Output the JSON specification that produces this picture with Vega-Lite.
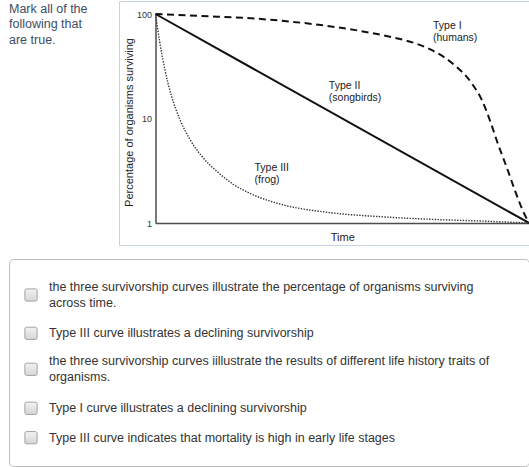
{
  "$schema": "https://vega.github.io/schema/vega-lite/v6.json",
  "background": "white",
  "padding": {"left": 8, "top": 0, "right": 0, "bottom": 0},
  "config": {
    "font": "Liberation Sans",
    "view": {"stroke": null},
    "axis": {"grid": false}
  },
  "spacing": 12,
  "vconcat": [
    {
      "spacing": 0,
      "bounds": "flush",
      "hconcat": [
        {
          "width": 109.5,
          "height": 244,
          "data": {"values": [{"prompt": "Mark all of the\nfollowing that\nare true."}]},
          "mark": {"type": "text", "align": "left", "baseline": "top", "lineBreak": "\n", "lineHeight": 15.7, "fontSize": 12.5, "color": "#3e4c66", "dy": 1.5},
          "encoding": {
            "x": {"datum": 0, "type": "quantitative", "scale": {"domain": [0, 1]}, "axis": null},
            "y": {"datum": 1, "type": "quantitative", "scale": {"domain": [0, 1]}, "axis": null},
            "text": {"field": "prompt"}
          }
        },
        {
          "width": 410.5,
          "height": 244,
          "view": {"stroke": "#c6d4e2", "fill": "white"},
          "data": {"values": [
            {"curve": "Type I", "time": 0, "pct": 100},
            {"curve": "Type I", "time": 12.3, "pct": 95.7},
            {"curve": "Type I", "time": 28.3, "pct": 89.5},
            {"curve": "Type I", "time": 46.1, "pct": 76.8},
            {"curve": "Type I", "time": 54.9, "pct": 68.8},
            {"curve": "Type I", "time": 63.7, "pct": 59.5},
            {"curve": "Type I", "time": 69.1, "pct": 53.1},
            {"curve": "Type I", "time": 74.4, "pct": 44.3},
            {"curve": "Type I", "time": 79.7, "pct": 33.2},
            {"curve": "Type I", "time": 84.8, "pct": 21.4},
            {"curve": "Type I", "time": 87.5, "pct": 14.7},
            {"curve": "Type I", "time": 89.6, "pct": 9.46},
            {"curve": "Type I", "time": 91.7, "pct": 5.7},
            {"curve": "Type I", "time": 94.1, "pct": 3.36},
            {"curve": "Type I", "time": 96.3, "pct": 2.02},
            {"curve": "Type I", "time": 98.4, "pct": 1.3},
            {"curve": "Type I", "time": 100, "pct": 1},
            {"curve": "Type II", "time": 0, "pct": 100},
            {"curve": "Type II", "time": 100, "pct": 1},
            {"curve": "Type III", "time": 0, "pct": 100},
            {"curve": "Type III", "time": 1.15, "pct": 53.6},
            {"curve": "Type III", "time": 2.48, "pct": 29.8},
            {"curve": "Type III", "time": 4.27, "pct": 16.5},
            {"curve": "Type III", "time": 6.48, "pct": 9.89},
            {"curve": "Type III", "time": 9.15, "pct": 6.37},
            {"curve": "Type III", "time": 12.27, "pct": 4.41},
            {"curve": "Type III", "time": 16.72, "pct": 3.06},
            {"curve": "Type III", "time": 20.5, "pct": 2.39},
            {"curve": "Type III", "time": 25.6, "pct": 1.9},
            {"curve": "Type III", "time": 33.6, "pct": 1.51},
            {"curve": "Type III", "time": 46.9, "pct": 1.255},
            {"curve": "Type III", "time": 60.3, "pct": 1.149},
            {"curve": "Type III", "time": 73.6, "pct": 1.085},
            {"curve": "Type III", "time": 86.9, "pct": 1.045},
            {"curve": "Type III", "time": 100, "pct": 1}
          ]},
          "encoding": {
            "x": {
              "field": "time",
              "type": "quantitative",
              "scale": {"domain": [0, 100], "range": [36.5, 410], "nice": false, "zero": false},
              "axis": {
                "orient": "bottom",
                "offset": -22,
                "ticks": false,
                "labels": false,
                "title": "Time",
                "titleFontSize": 11,
                "titleFontWeight": "normal",
                "titleColor": "#222",
                "titleBaseline": "middle",
                "titleY": 14,
                "domainColor": "#4d4d4d",
                "domainWidth": 1.5
              }
            },
            "y": {
              "field": "pct",
              "type": "quantitative",
              "scale": {"type": "log", "domain": [1, 100], "range": [222, 13], "nice": false},
              "axis": {
                "values": [1, 10, 100],
                "offset": -36.5,
                "ticks": false,
                "labelFontSize": 9,
                "labelPadding": 4,
                "labelColor": "#333",
                "title": "Percentage of organisms surviving",
                "titleFontSize": 11,
                "titleFontWeight": "normal",
                "titleColor": "#222",
                "titleX": -26,
                "titleY": 121,
                "titleBaseline": "middle",
                "domainColor": "#4d4d4d",
                "domainWidth": 1.5
              }
            }
          },
          "layer": [
            {
              "transform": [{"filter": "datum.curve === 'Type I'"}],
              "mark": {"type": "line", "interpolate": "monotone", "color": "#111", "strokeWidth": 2, "strokeDash": [7, 4.5]}
            },
            {
              "transform": [{"filter": "datum.curve === 'Type II'"}],
              "mark": {"type": "line", "color": "#111", "strokeWidth": 2}
            },
            {
              "transform": [{"filter": "datum.curve === 'Type III'"}],
              "mark": {"type": "line", "interpolate": "monotone", "color": "#333", "strokeWidth": 1.4, "strokeDash": [1.4, 1.4]}
            },
            {
              "data": {"values": [
                {"label": "Type I\n(humans)", "time": 74.3, "pct": 85.7},
                {"label": "Type II\n(songbirds)", "time": 46.4, "pct": 22.7},
                {"label": "Type III\n(frog)", "time": 26.5, "pct": 3.75}
              ]},
              "mark": {"type": "text", "align": "left", "baseline": "top", "lineBreak": "\n", "lineHeight": 12, "fontSize": 10.5, "color": "#222"},
              "encoding": {"text": {"field": "label"}}
            }
          ]
        }
      ]
    },
    {
      "width": 520,
      "height": 207,
      "view": {"stroke": "#bdbdbd", "cornerRadius": 4, "fill": "white"},
      "data": {"values": [
        {"option": 1, "text": "the three survivorship curves illustrate the percentage of organisms surviving\nacross time."},
        {"option": 2, "text": "Type III curve illustrates a declining survivorship"},
        {"option": 3, "text": "the three survivorship curves iillustrate the results of different life history traits of\norganisms."},
        {"option": 4, "text": "Type I curve illustrates a declining survivorship"},
        {"option": 5, "text": "Type III curve indicates that mortality is high in early life stages"}
      ]},
      "encoding": {
        "y": {
          "field": "option",
          "type": "quantitative",
          "scale": {"domain": [1, 2, 3, 4, 5], "range": [36, 74.3, 110.3, 149.3, 178.7], "nice": false, "zero": false},
          "axis": null
        },
        "x": {"datum": "text", "type": "nominal", "scale": {"type": "point", "domain": ["box", "text"], "range": [22, 40], "padding": 0}, "axis": null}
      },
      "layer": [
        {
          "mark": {
            "type": "point",
            "shape": "M -0.7 -1 L 0.7 -1 Q 1 -1 1 -0.7 L 1 0.7 Q 1 1 0.7 1 L -0.7 1 Q -1 1 -1 0.7 L -1 -0.7 Q -1 -1 -0.7 -1 Z",
            "size": 150,
            "filled": true,
            "opacity": 1,
            "fill": {"gradient": "linear", "x1": 0, "y1": 0, "x2": 0, "y2": 1, "stops": [{"offset": 0, "color": "#f3f3f3"}, {"offset": 1, "color": "#d5d5d5"}]},
            "stroke": "#a3a3a3",
            "strokeWidth": 1
          },
          "encoding": {
            "x": {"datum": "box", "type": "nominal"}
          }
        },
        {
          "transform": [{"filter": "indexof(datum.text, '\\n') < 0"}],
          "mark": {"type": "text", "align": "left", "baseline": "middle", "fontSize": 12.5, "color": "#333"},
          "encoding": {"text": {"field": "text"}}
        },
        {
          "transform": [{"filter": "indexof(datum.text, '\\n') >= 0"}],
          "mark": {"type": "text", "align": "left", "baseline": "middle", "lineBreak": "\n", "lineHeight": 15.7, "fontSize": 12.5, "color": "#333", "dy": -8},
          "encoding": {"text": {"field": "text"}}
        }
      ]
    }
  ]
}
